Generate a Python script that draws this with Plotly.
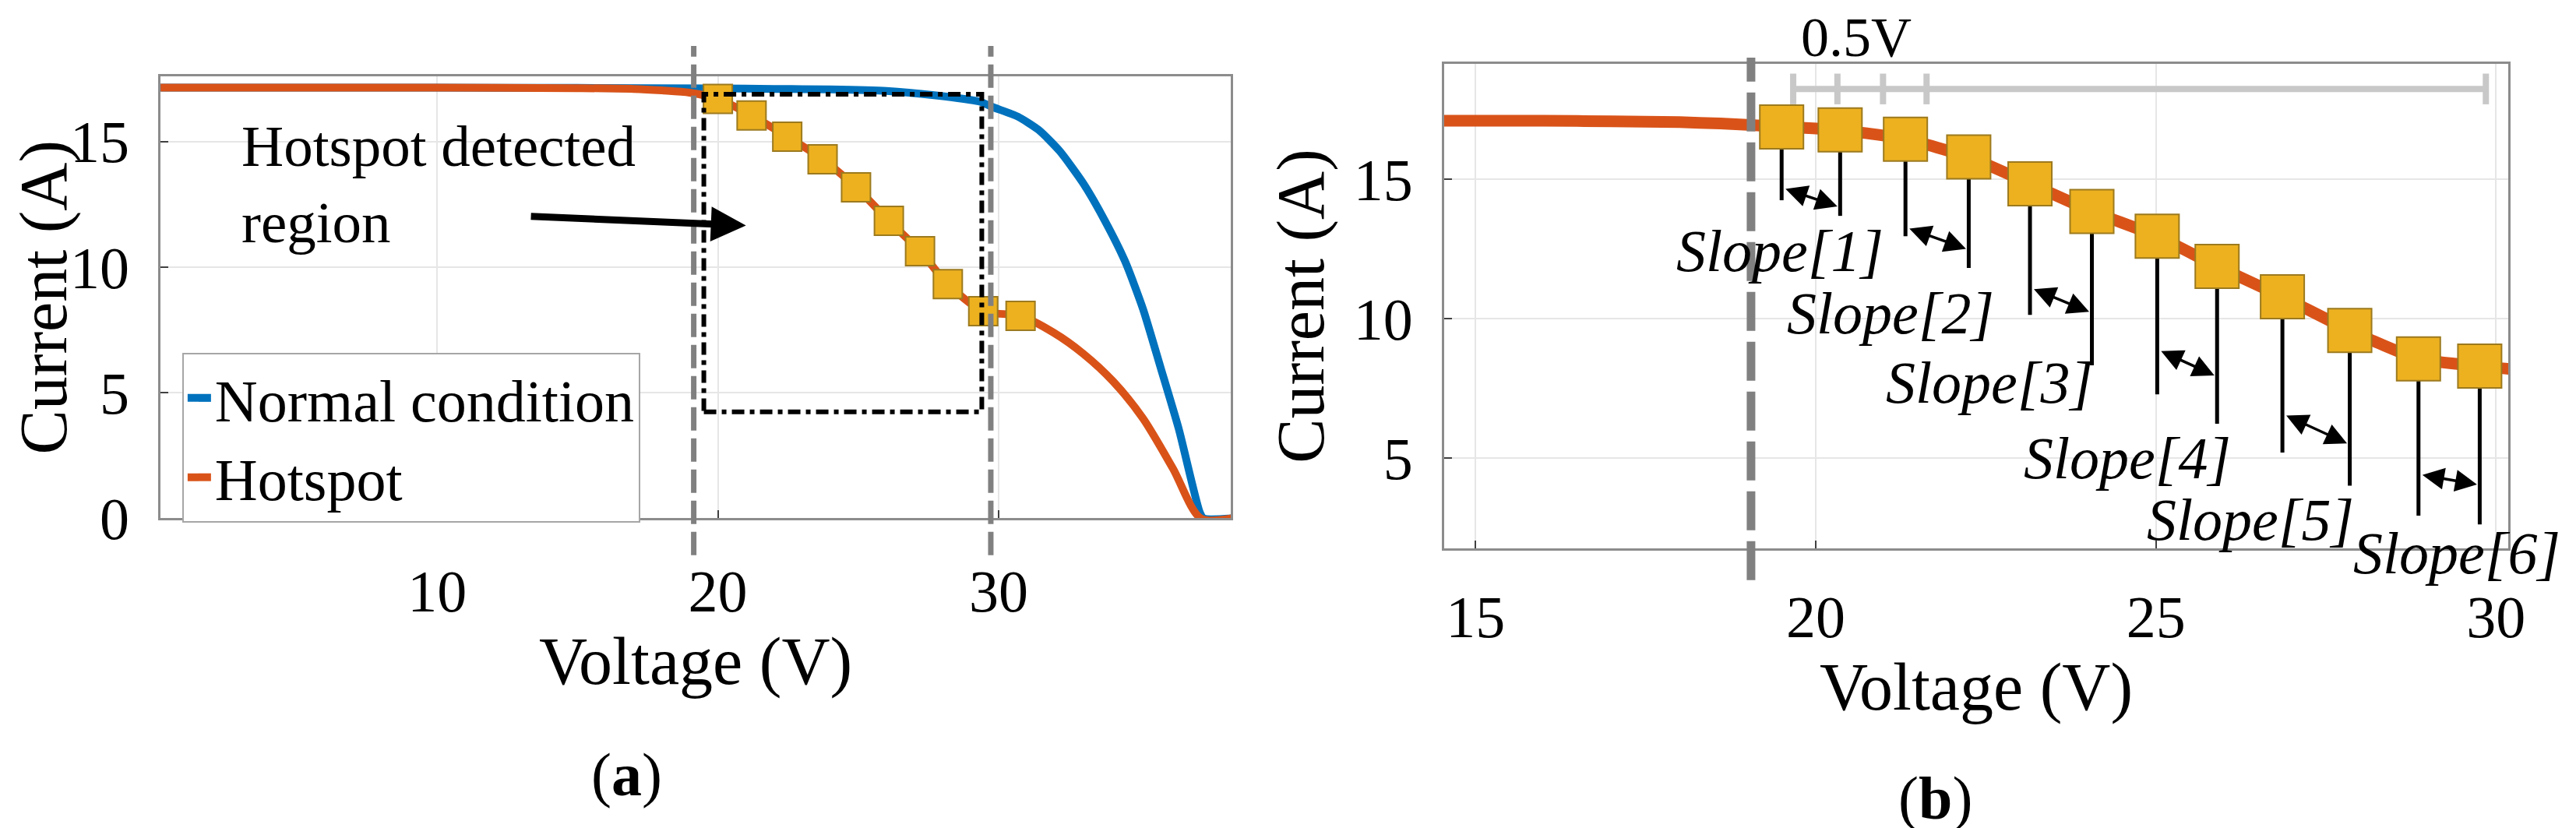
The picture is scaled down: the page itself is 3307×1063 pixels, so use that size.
import plotly.graph_objects as go

# ---------------- data ----------------
# (a) full I-V curves
v_normal = [0.15, 5, 10, 15, 20, 22, 24, 26, 27.7, 29.3, 29.83, 30.68, 31.42, 32.17,
            33.02, 33.76, 34.5, 35.14, 35.78, 36.41, 37.16, 37.3, 38.3]
i_normal = [17.15, 17.15, 17.15, 17.14, 17.12, 17.1, 17.08, 17.02, 16.85, 16.6, 16.36, 16.0,
            15.47, 14.63, 13.33, 11.9, 10.24, 8.34, 5.96, 3.58, 0.25, 0, 0]

v_hot_a = [0.15, 5, 10, 15, 17, 18, 19, 20.0, 21.2, 22.47, 23.73, 24.92, 26.09, 27.2, 28.19,
           29.45, 30.78, 31.95, 33.02, 34.08, 35.14, 36.2, 37.2, 38.3]
i_hot_a = [17.15, 17.15, 17.15, 17.13, 17.1, 17.04, 16.95, 16.7, 16.04, 15.2, 14.3, 13.18, 11.85,
           10.64, 9.33, 8.25, 8.06, 7.4, 6.55, 5.45, 3.98, 2.0, 0, 0]

# sampled points in (a)
mark_v_a = [20.0, 21.2, 22.47, 23.73, 24.92, 26.09, 27.2, 28.19, 29.45, 30.78]
mark_i_a = [16.7, 16.04, 15.2, 14.3, 13.18, 11.85, 10.64, 9.33, 8.25, 8.06]

# window limits and detected region in (a)
window_v_a = [19.14, 29.72]
region_v = [19.5, 29.4]
region_i = [4.24, 16.89]

# (b) zoomed hotspot curve
v_hot_b = [14.5, 16, 17, 18, 18.6, 19.05, 19.5, 20.36, 21.32, 22.25, 23.15, 24.06, 25.02,
           25.90, 26.86, 27.85, 28.86, 29.76, 30.2]
i_hot_b = [17.1, 17.1, 17.08, 17.05, 17.0, 16.95, 16.88, 16.77, 16.44, 15.80, 14.84, 13.85,
           12.96, 11.88, 10.79, 9.58, 8.56, 8.30, 8.2]

mark_v_b = [19.5, 20.36, 21.32, 22.25, 23.15, 24.06, 25.02, 25.90, 26.86, 27.85, 28.86, 29.76]
mark_i_b = [16.88, 16.77, 16.44, 15.80, 14.84, 13.85, 12.96, 11.88, 10.79, 9.58, 8.56, 8.30]

window_v_b = 19.05

# 0.5V scale bar in (b)
scale_ticks_v = [19.67, 20.32, 20.99, 21.63, 29.85]
scale_i = 18.24

# slope brackets in (b)
slope_names = ["Slope[1]", "Slope[2]", "Slope[3]", "Slope[4]", "Slope[5]", "Slope[6]"]
left_bottom = [14.25, 12.96, 10.14, 7.29, 5.2, 2.94]
right_bottom = [13.69, 11.82, 8.33, 6.24, 4.02, 2.63]
arrow_i_start = [14.67, 13.25, 11.08, 8.86, 6.55, 4.41]
arrow_i_end = [14.03, 12.51, 10.25, 7.97, 5.53, 4.06]
label_v = [19.47, 21.1, 22.55, 24.58, 26.39, 29.42]
label_i_top = [13.66, 11.43, 8.94, 6.23, 4.02, 2.82]

BLUE = "#0072BD"
ORANGE = "#D95319"
GOLD = "#EDB120"
FONT = "Liberation Serif"

fig = go.Figure()

# ---------------- panel (a) ----------------
fig.add_trace(go.Scatter(x=v_normal, y=i_normal, mode="lines", name="Normal condition",
                         line=dict(color=BLUE, width=10, shape="spline", smoothing=0.6),
                         xaxis="x", yaxis="y"))
fig.add_trace(go.Scatter(x=v_hot_a, y=i_hot_a, mode="lines", name="Hotspot",
                         line=dict(color=ORANGE, width=10, shape="spline", smoothing=0.8),
                         xaxis="x", yaxis="y"))
fig.add_trace(go.Scatter(x=mark_v_a, y=mark_i_a, mode="markers", showlegend=False,
                         marker=dict(symbol="square", size=37, color=GOLD,
                                     line=dict(color="#9C7A1E", width=2)),
                         xaxis="x", yaxis="y"))

# ---------------- panel (b) ----------------
fig.add_trace(go.Scatter(x=v_hot_b, y=i_hot_b, mode="lines", showlegend=False,
                         line=dict(color=ORANGE, width=15, shape="spline", smoothing=0.5),
                         xaxis="x2", yaxis="y2"))

# scale bar
bar_x = [scale_ticks_v[0], scale_ticks_v[-1], None]
bar_y = [scale_i, scale_i, None]
for v in scale_ticks_v:
    bar_x += [v, v, None]
    bar_y += [scale_i - 0.55, scale_i + 0.55, None]
fig.add_trace(go.Scatter(x=bar_x, y=bar_y, mode="lines", showlegend=False,
                         line=dict(color="#C8C8C8", width=8), xaxis="x2", yaxis="y2"))

# bracket verticals
br_x, br_y = [], []
for k in range(6):
    lv, rv = mark_v_b[2 * k], mark_v_b[2 * k + 1]
    br_x += [lv, lv, None, rv, rv, None]
    br_y += [mark_i_b[2 * k], left_bottom[k], None, mark_i_b[2 * k + 1], right_bottom[k], None]
fig.add_trace(go.Scatter(x=br_x, y=br_y, mode="lines", showlegend=False,
                         line=dict(color="black", width=5), xaxis="x2", yaxis="y2"))

fig.add_trace(go.Scatter(x=mark_v_b, y=mark_i_b, mode="markers", showlegend=False,
                         marker=dict(symbol="square", size=56, color=GOLD,
                                     line=dict(color="#9C7A1E", width=2)),
                         xaxis="x2", yaxis="y2"))

# ---------------- shapes ----------------
shapes = []
for v in window_v_a:
    shapes.append(dict(type="line", xref="x", yref="paper", x0=v, x1=v, y0=0.337, y1=0.952,
                       line=dict(color="#808080", width=7, dash="30px,10px")))
shapes.append(dict(type="rect", xref="x", yref="y", x0=region_v[0], x1=region_v[1],
                   y0=region_i[0], y1=region_i[1],
                   line=dict(color="black", width=6, dash="16px,7px,6px,7px")))
shapes.append(dict(type="line", xref="x2", yref="paper", x0=window_v_b, x1=window_v_b,
                   y0=0.307, y1=0.938, line=dict(color="#808080", width=11, dash="50px,14px")))

# ---------------- annotations ----------------
ann = []
ann.append(dict(xref="x", yref="y", x=2.98, y=13.3, xanchor="left", yanchor="middle",
                text="Hotspot detected<br>region", align="left", showarrow=False,
                font=dict(size=75, family=FONT, color="black")))
ann.append(dict(xref="x", yref="y", axref="x", ayref="y", x=21.0, y=11.66, ax=13.3, ay=12.03,
                showarrow=True, arrowhead=2, arrowsize=1.0, arrowwidth=9, arrowcolor="black",
                text=""))
for k in range(6):
    lv, rv = mark_v_b[2 * k], mark_v_b[2 * k + 1]
    ann.append(dict(xref="x2", yref="y2", axref="x2", ayref="y2",
                    x=rv - 0.04, y=arrow_i_end[k], ax=lv + 0.04, ay=arrow_i_start[k],
                    showarrow=True, arrowhead=2, arrowsize=1.6, arrowwidth=3.5,
                    arrowside="end+start", arrowcolor="black", text=""))
    ann.append(dict(xref="x2", yref="y2", x=label_v[k], y=label_i_top[k],
                    xanchor="center", yanchor="top", showarrow=False,
                    text="<i>" + slope_names[k] + "</i>",
                    font=dict(size=76, family=FONT, color="black")))
ann.append(dict(xref="x2", yref="y2", x=20.6, y=19.14, xanchor="center", yanchor="bottom",
                yshift=-8, showarrow=False, text="0.5V",
                font=dict(size=72, family=FONT, color="black")))
ann.append(dict(xref="paper", yref="paper", x=0.241, y=0.0715, xanchor="center",
                yanchor="middle", showarrow=False, text="(<b>a</b>)",
                font=dict(size=78, family=FONT, color="black")))
ann.append(dict(xref="paper", yref="paper", x=0.749, y=0.0442, xanchor="center",
                yanchor="middle", showarrow=False, text="(<b>b</b>)",
                font=dict(size=78, family=FONT, color="black")))

axis_common = dict(showgrid=True, gridcolor="#E6E6E6", gridwidth=2, zeroline=False,
                   showline=True, linecolor="#8C8C8C", linewidth=3, mirror=True,
                   ticks="inside", ticklen=10, tickwidth=2, tickcolor="#404040",
                   tickfont=dict(size=76, family=FONT, color="black"), automargin=False)

fig.update_layout(
    width=3307, height=1063,
    margin=dict(l=0, r=0, t=0, b=0),
    paper_bgcolor="white", plot_bgcolor="white",
    font=dict(family=FONT, color="black"),
    shapes=shapes, annotations=ann,
    xaxis=dict(domain=[0.0599, 0.4754], range=[0.15, 38.27], tickvals=[10, 20, 30],
               ticklabelstandoff=25,
               title=dict(text="Voltage (V)", font=dict(size=86), standoff=8),
               anchor="y", **axis_common),
    yaxis=dict(domain=[0.3815, 0.9153], range=[0, 17.6], tickvals=[0, 5, 10, 15],
               ticklabelstandoff=22,
               title=dict(text="Current (A)", font=dict(size=86), standoff=10),
               anchor="x", **axis_common),
    xaxis2=dict(domain=[0.5582, 0.9713], range=[14.54, 30.18], tickvals=[15, 20, 25, 30],
                ticklabelstandoff=20,
                title=dict(text="Voltage (V)", font=dict(size=86), standoff=8),
                anchor="y2", **axis_common),
    yaxis2=dict(domain=[0.3453, 0.9304], range=[1.77, 19.14], tickvals=[5, 10, 15],
                ticklabelstandoff=22,
                title=dict(text="Current (A)", font=dict(size=86), standoff=10),
                anchor="x2", **axis_common),
    legend=dict(x=0.0683, y=0.5814, xanchor="left", yanchor="top", bgcolor="white",
                bordercolor="#A6A6A6", borderwidth=2, tracegroupgap=0,
                font=dict(size=76, family=FONT, color="black")),
)

fig.write_html("out.html")
